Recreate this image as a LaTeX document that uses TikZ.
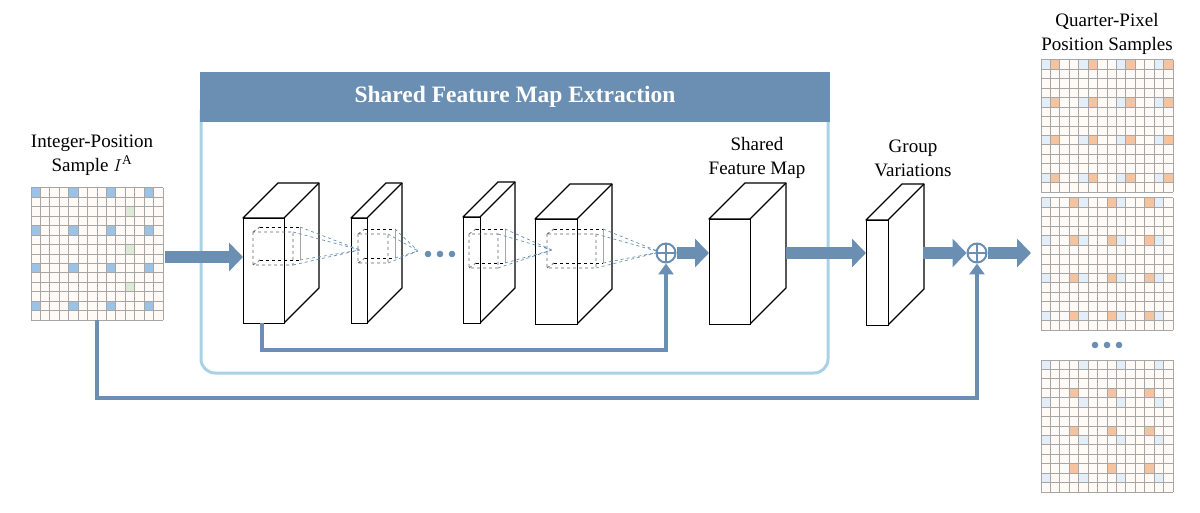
\documentclass[tikz,border=0pt]{standalone}
\usepackage{fontspec}
\setmainfont{Liberation Serif}
\usetikzlibrary{arrows.meta}
\definecolor{bl}{HTML}{6A8FB3}
\definecolor{fr}{HTML}{A9D3E5}
\definecolor{cb}{HTML}{9CC2E5}
\definecolor{cg}{HTML}{DCEBD6}
\definecolor{cl}{HTML}{E4EEF8}
\definecolor{co}{HTML}{F4C4A0}
\definecolor{gl}{HTML}{A6A6A6}
\newcommand\mkgrid[3]{%
 \begin{scope}[shift={(#1,#2)}]
  \fill[white!96!orange] (0,0) rectangle (132,132);
  \foreach \c/\r/\k in {#3}{\fill[\k] (\c*9.43,\r*9.43) rectangle ++(9.43,9.43);}
  \foreach \i in {0,...,14}{\draw[gl,line width=1pt] (\i*9.43,0) -- (\i*9.43,132); \draw[gl,line width=1pt] (0,\i*9.43) -- (132,\i*9.43);}
 \end{scope}}
\newcommand\blk[6]{% name, x1,x2,ytop,ybot, offset
 \draw[blk,fill=white] (#2,#4) -- ++(#6,-#6) -- (#3+#6,#4-#6) -- (#3+#6,#5-#6) -- (#3,#5) -- (#3,#4) -- cycle;
 \draw[blk] (#3,#4) -- ++(#6,-#6);
 \node[draw=black,line width=1.3pt,fill=white,minimum width=#3-#2,minimum height=#5-#4,inner sep=0,anchor=north west] (#1) at (#2,#4) {};}
\newcommand\cube[6]{% x1,x2,y1,y2, apex x, apex y
 \draw[dashed,gl!60!black,line width=0.8pt] (#1,#3) rectangle (#2,#4) (#1,#3)--++(7,-5) (#1,#4)--++(7,-5);
 \draw[gl,line width=0.6pt] (#2+7,#3-5) -- (#2+7,#4-5);
 \draw[dashed,black,line width=0.8pt] (#1+7,#3-5) -- (#2+7,#3-5) (#1+7,#4-5)--(#2+7,#4-5);
 \draw[dashed,bl,line width=0.7pt] (#2,#3)--(#5,#6) (#2+7,#3-5)--(#5,#6) (#2,#4)--(#5,#6) (#2+7,#4-5)--(#5,#6);}
\begin{document}
\begin{tikzpicture}[x=1pt,y=-1pt,
 blk/.style={line width=1.3pt,line join=round},
 big/.style={line width=12pt,bl,-{Triangle[length=14pt,width=28pt]}},
 thin/.style={line width=4pt,bl,-{Triangle[length=11pt,width=15pt]}},
 lab/.style={font=\fontsize{19}{24}\selectfont,align=center},
 op/.style={circle,draw=bl,line width=2pt,minimum size=19pt,inner sep=0,fill=white,
   path picture={\draw[bl,line width=2pt] (path picture bounding box.north)--(path picture bounding box.south) (path picture bounding box.west)--(path picture bounding box.east);}}]
\useasboundingbox (0,0) rectangle (1200,513);
% frame
\draw[fr,line width=3pt,rounded corners=14pt] (201,110) -- (201,373) -- (828,373) -- (828,110);
\fill[bl] (200,72) rectangle (830,122);
\node[text=white,font=\fontsize{23.5}{28}\selectfont\bfseries] (title) at (515,97) {Shared Feature Map Extraction};
% left grid
\node[lab] (inlab) at (92,155) {Integer-Position\\Sample $I^{\mathrm{A}}$};
\mkgrid{31}{188}{0/0/cb,4/0/cb,8/0/cb,12/0/cb,0/4/cb,4/4/cb,8/4/cb,12/4/cb,0/8/cb,4/8/cb,8/8/cb,12/8/cb,0/12/cb,4/12/cb,8/12/cb,12/12/cb,10/2/cg,10/6/cg,10/10/cg}
\coordinate (gin) at (97,320);
\coordinate (gout) at (165,257);
% blocks
\blk{b1}{243}{284}{218}{323}{35}
\blk{b2}{351}{367}{218}{323}{35}
\blk{b3}{463}{480}{217}{323}{35}
\blk{b4}{535}{577}{219}{324}{35}
\blk{b5}{709}{750}{219}{324}{36}
\blk{b6}{866}{888}{220}{325}{36}
\cube{253}{293}{232}{265}{360}{250}
\cube{358}{388}{234}{263}{418}{251}
\cube{469}{498}{234}{268}{552}{250}
\cube{547}{596}{234}{268}{660}{252}
\foreach \x [count=\i] in {428,440,452}{\fill[bl] (\x,254) circle (3.3pt) coordinate (d\i);}
\node[op] (o1) at (666,253) {};
\node[op] (o2) at (977,253) {};
\node[lab] (l5) at (757,158) {Shared\\Feature Map};
\node[lab] (l6) at (913,158) {Group\\Variations};
\node[lab] (rl) at (1107,34) {Quarter-Pixel\\Position Samples};
% arrows
\draw[big] (gout) -- (b1.west|-gout);
\draw[big] (o1.east) -- (b5.west|-o1);
\draw[big] (786,253) -- (b6.west|-o1);
\draw[big] (923,253) -- (o2.west);
\draw[big] (o2.east) -- (1031,253);
\draw[thin] (262,323) -- (262,350) -- (666,350) -- (o1.south);
\draw[thin] (gin) -- (97,398) -- (977,398) -- (o2.south);
% right grids
\mkgrid{1041}{60}{0/0/cl,4/0/cl,8/0/cl,12/0/cl,0/4/cl,4/4/cl,8/4/cl,12/4/cl,0/8/cl,4/8/cl,8/8/cl,12/8/cl,0/12/cl,4/12/cl,8/12/cl,12/12/cl,1/0/co,5/0/co,9/0/co,13/0/co,1/4/co,5/4/co,9/4/co,13/4/co,1/8/co,5/8/co,9/8/co,13/8/co,1/12/co,5/12/co,9/12/co,13/12/co}
\mkgrid{1041}{198}{0/0/cl,4/0/cl,8/0/cl,12/0/cl,0/4/cl,4/4/cl,8/4/cl,12/4/cl,0/8/cl,4/8/cl,8/8/cl,12/8/cl,0/12/cl,4/12/cl,8/12/cl,12/12/cl,3/0/co,7/0/co,11/0/co,3/4/co,7/4/co,11/4/co,3/8/co,7/8/co,11/8/co,3/12/co,7/12/co,11/12/co}
\mkgrid{1041}{360}{0/0/cl,4/0/cl,8/0/cl,12/0/cl,0/4/cl,4/4/cl,8/4/cl,12/4/cl,0/8/cl,4/8/cl,8/8/cl,12/8/cl,0/12/cl,4/12/cl,8/12/cl,12/12/cl,3/3/co,7/3/co,11/3/co,3/7/co,7/7/co,11/7/co,3/11/co,7/11/co,11/11/co}
\foreach \x in {1095,1107,1119}{\fill[bl] (\x,345) circle (3.3pt);}
\end{tikzpicture}
\end{document}
